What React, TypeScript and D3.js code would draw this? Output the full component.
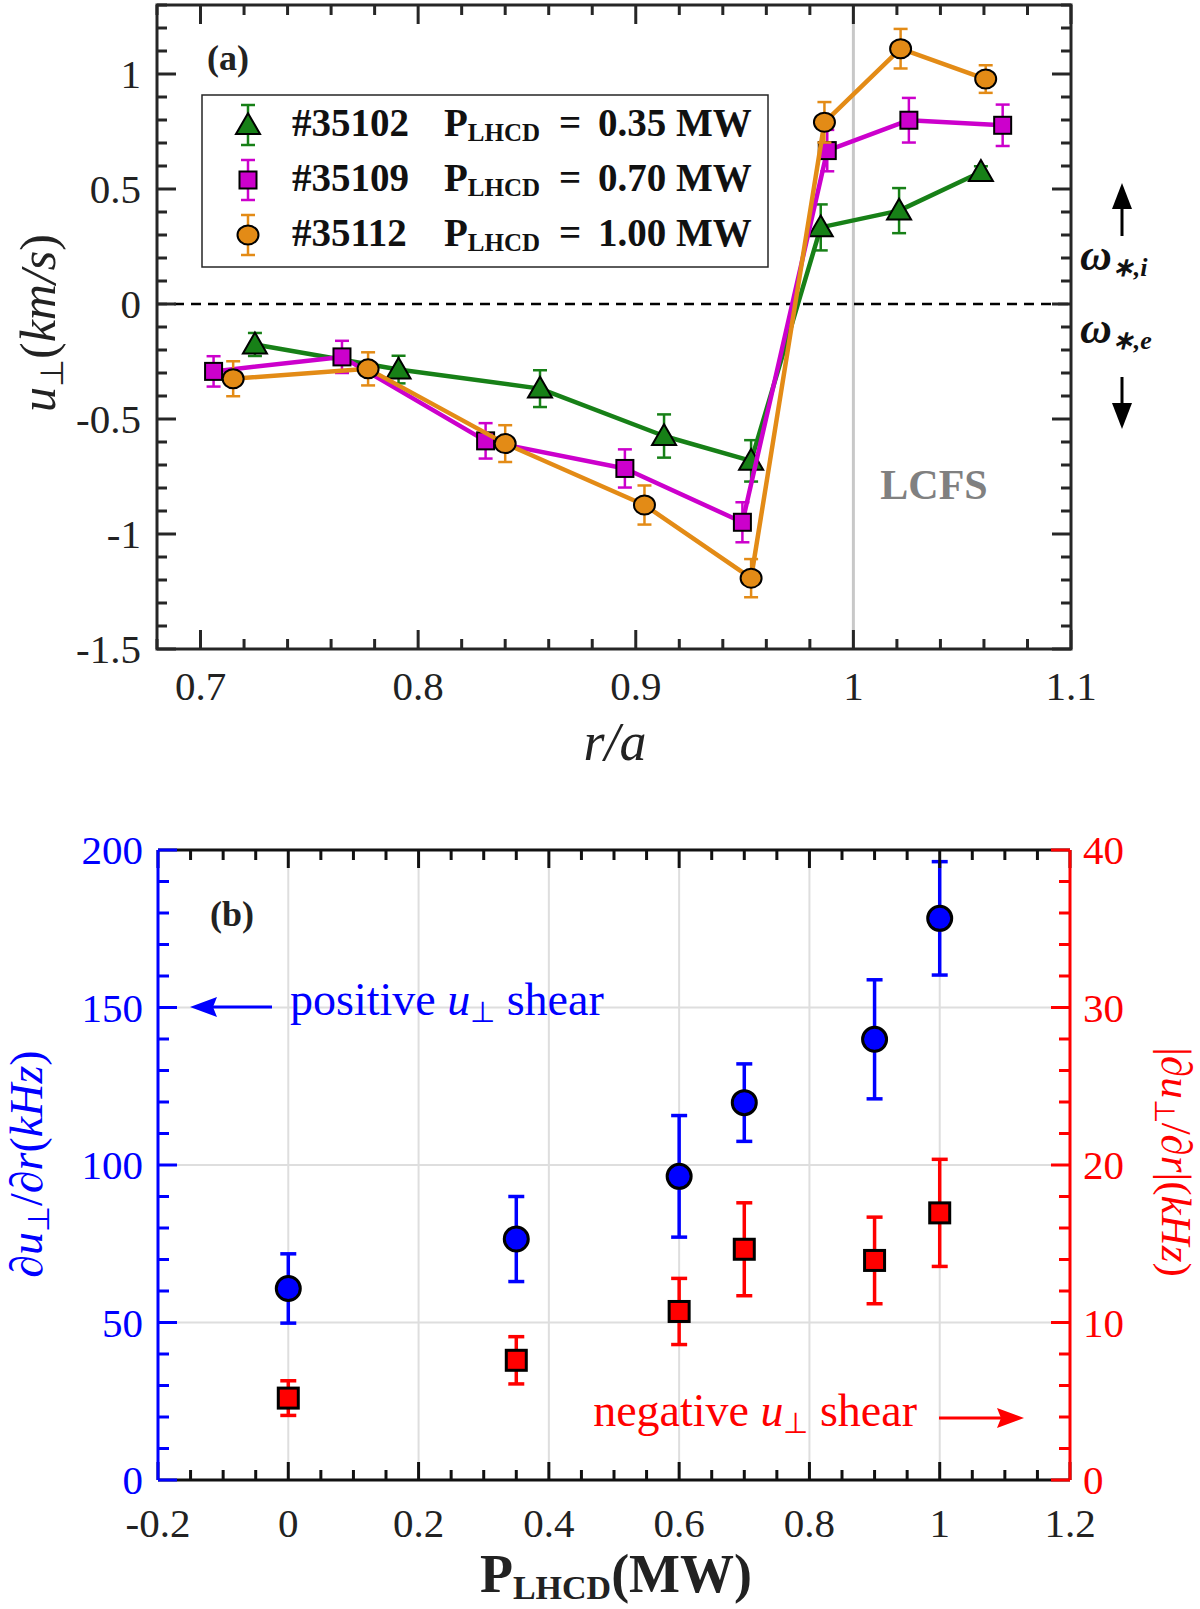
import React from "react";
import * as d3 from "d3";

// panel (a): r/a vs u_perp for three shots
const shots = ["#35102", "#35109", "#35112"];
const powers = ["0.35", "0.70", "1.00"];
const r35102 = [0.725, 0.791, 0.856, 0.913, 0.953, 0.985, 1.021, 1.0586];
const u35102 = [-0.176, -0.285, -0.368, -0.574, -0.682, 0.333, 0.406, 0.574];
const e35102 = [0.05, 0.06, 0.08, 0.094, 0.09, 0.1, 0.098, 0.025];
const r35109 = [0.706, 0.765, 0.831, 0.895, 0.949, 0.988, 1.0255, 1.0686];
const u35109 = [-0.293, -0.23, -0.595, -0.715, -0.949, 0.667, 0.799, 0.777];
const e35109 = [0.066, 0.07, 0.077, 0.083, 0.087, 0.09, 0.097, 0.09];
const r35112 = [0.715, 0.777, 0.84, 0.904, 0.953, 0.9867, 1.0217, 1.0608];
const u35112 = [-0.325, -0.282, -0.607, -0.874, -1.192, 0.79, 1.11, 0.978];
const e35112 = [0.076, 0.072, 0.08, 0.085, 0.083, 0.088, 0.086, 0.06];

// panel (b): shear vs LHCD power
const pLHCD = [0, 0.35, 0.6, 0.7, 0.9, 1.0];
const posShear = [60.8, 76.5, 96.4, 119.8, 139.9, 178.3];
const posShearErr = [11, 13.5, 19.3, 12.3, 18.9, 18];
const negShear = [5.2, 7.6, 10.7, 14.65, 13.94, 16.96];
const negShearErr = [1.1, 1.5, 2.1, 2.95, 2.75, 3.4];

const font = "'Liberation Serif', 'Times New Roman', serif";
const axisCol = "#262626";
const green = "#178017";
const magenta = "#cc00cc";
const orange = "#e38b16";
const blue = "#0000ff";
const red = "#ff0000";

const steps = (a: number, b: number, s: number) =>
  d3.range(Math.round((b - a) / s) + 1).map((i) => +(a + i * s).toFixed(6));
const isMult = (v: number, m: number) => Math.abs(v / m - Math.round(v / m)) < 1e-6;
const fmt = (v: number) => String(+v.toFixed(2));

function Marker({ kind, x, y, fill }: any) {
  if (kind === "tri") {
    const p = d3.symbol(d3.symbolTriangle, 250)();
    return <path d={p!} transform={`translate(${x},${y + 2})`} fill={fill} stroke="#000" strokeWidth={2} />;
  }
  if (kind === "sq") {
    return <rect x={x - 8.5} y={y - 8.5} width={17} height={17} fill={fill} stroke="#000" strokeWidth={2} />;
  }
  return <ellipse cx={x} cy={y} rx={10.5} ry={9.5} fill={fill} stroke="#000" strokeWidth={2} />;
}

export default function App() {
  const xA = d3.scaleLinear().domain([0.68, 1.1]).range([157, 1071]);
  const yA = d3.scaleLinear().domain([-1.5, 1.3]).range([649, 5]);
  const xB = d3.scaleLinear().domain([-0.2, 1.2]).range([158, 1070]);
  const yBL = d3.scaleLinear().domain([0, 200]).range([1480, 850]);
  const yBR = d3.scaleLinear().domain([0, 40]).range([1480, 850]);

  const series = [
    { r: r35102, u: u35102, e: e35102, col: green, kind: "tri" },
    { r: r35109, u: u35109, e: e35109, col: magenta, kind: "sq" },
    { r: r35112, u: u35112, e: e35112, col: orange, kind: "circ" },
  ];
  const line = d3
    .line<[number, number]>()
    .x((d) => xA(d[0]))
    .y((d) => yA(d[1]));

  const [aL, aR] = xA.range();
  const [aB, aT] = yA.range();
  const [bL, bR] = xB.range();
  const [bB, bT] = yBL.range();

  const xTicksA = steps(0.68, 1.1, 0.02);
  const yTicksA = steps(-1.5, 1.3, 0.1);
  const xTicksB = steps(-0.2, 1.2, 0.05);
  const yTicksBL = steps(0, 200, 10);
  const yTicksBR = steps(0, 40, 2);

  return (
    <svg width={1200} height={1609} style={{ position: "absolute", left: 0, top: 0, background: "#fff" }} fontFamily={font}>
      <rect width={1200} height={1609} fill="#fff" />

      {/* ---------- panel (a) ---------- */}
      <line x1={xA(1)} x2={xA(1)} y1={aT} y2={aB} stroke="#c8c8c8" strokeWidth={3} />
      <line x1={aL} x2={aR} y1={yA(0)} y2={yA(0)} stroke="#000" strokeWidth={2.5} strokeDasharray="10,7" />
      <text x={934} y={499} textAnchor="middle" fontSize={42} fontWeight="bold" fill="#808080">LCFS</text>

      {series.map((s, si) => {
        const pts = s.r.map((r, i) => [r, s.u[i]] as [number, number]);
        return (
          <g key={si}>
            <path d={line(pts)!} fill="none" stroke={s.col} strokeWidth={4.5} strokeLinejoin="round" />
            {pts.map((p, i) => (
              <g key={i} stroke={s.col} strokeWidth={2.5}>
                <line x1={xA(p[0])} x2={xA(p[0])} y1={yA(p[1] - s.e[i])} y2={yA(p[1] + s.e[i])} />
                <line x1={xA(p[0]) - 7} x2={xA(p[0]) + 7} y1={yA(p[1] - s.e[i])} y2={yA(p[1] - s.e[i])} />
                <line x1={xA(p[0]) - 7} x2={xA(p[0]) + 7} y1={yA(p[1] + s.e[i])} y2={yA(p[1] + s.e[i])} />
              </g>
            ))}
            {pts.map((p, i) => (
              <Marker key={"m" + i} kind={s.kind} x={xA(p[0])} y={yA(p[1])} fill={s.col} />
            ))}
          </g>
        );
      })}

      {/* axes frame (a) */}
      <rect x={aL} y={aT} width={aR - aL} height={aB - aT} fill="none" stroke={axisCol} strokeWidth={3} />
      <g stroke={axisCol} strokeWidth={3}>
        {xTicksA.map((v) => {
          const len = isMult(v, 0.1) ? 19 : 10;
          return (
            <g key={v}>
              <line x1={xA(v)} x2={xA(v)} y1={aB} y2={aB - len} />
              <line x1={xA(v)} x2={xA(v)} y1={aT} y2={aT + len} />
            </g>
          );
        })}
        {yTicksA.map((v) => {
          const len = isMult(v, 0.5) ? 19 : 10;
          return (
            <g key={v}>
              <line x1={aL} x2={aL + len} y1={yA(v)} y2={yA(v)} />
              <line x1={aR} x2={aR - len} y1={yA(v)} y2={yA(v)} />
            </g>
          );
        })}
      </g>
      {xA.ticks(5).map((v) => (
        <text key={v} x={xA(v)} y={700} textAnchor="middle" fontSize={41} fill="#222">{fmt(v)}</text>
      ))}
      {d3.range(-1.5, 1.01, 0.5).map((v) => (
        <text key={v} x={141} y={yA(v) + 14} textAnchor="end" fontSize={41} fill="#222">{fmt(v)}</text>
      ))}
      <text x={615} y={760} textAnchor="middle" fontSize={54} fontStyle="italic" fill="#222">r/a</text>
      <text transform="translate(55,323) rotate(-90)" textAnchor="middle" fontSize={50} fill="#222">
        <tspan fontStyle="italic">u</tspan>
        <tspan fontSize={32} dy={8}>⊥</tspan>
        <tspan dy={-8}>(</tspan>
        <tspan fontStyle="italic">km/s</tspan>
        <tspan>)</tspan>
      </text>
      <text x={207} y={70} fontSize={36} fontWeight="bold" fill="#222">(a)</text>

      {/* legend */}
      <rect x={202} y={95} width={566} height={172} fill="#fff" stroke={axisCol} strokeWidth={1.5} />
      {series.map((s, i) => {
        const cy = 125 + i * 55;
        return (
          <g key={i}>
            <g stroke={s.col} strokeWidth={2.5}>
              <line x1={248} x2={248} y1={cy - 20} y2={cy + 20} />
              <line x1={241} x2={255} y1={cy - 20} y2={cy - 20} />
              <line x1={241} x2={255} y1={cy + 20} y2={cy + 20} />
            </g>
            <Marker kind={s.kind} x={248} y={cy} fill={s.col} />
            <text x={292} y={cy + 11} fontSize={39} fontWeight="bold" fill="#111">{shots[i]}</text>
            <text x={444} y={cy + 11} fontSize={39} fontWeight="bold" fill="#111">
              P<tspan fontSize={25} dy={5}>LHCD</tspan>
            </text>
            <text x={559} y={cy + 11} fontSize={39} fontWeight="bold" fill="#111">=</text>
            <text x={598} y={cy + 11} fontSize={39} fontWeight="bold" fill="#111">{powers[i]} MW</text>
          </g>
        );
      })}

      {/* omega annotations */}
      <g stroke="#000" strokeWidth={3}>
        <line x1={1122} x2={1122} y1={236} y2={200} />
        <line x1={1122} x2={1122} y1={377} y2={412} />
      </g>
      <polygon points="1122,183 1112,209 1132,209" fill="#000" />
      <polygon points="1122,429 1112,403 1132,403" fill="#000" />
      <text x={1080} y={270} fontSize={44} fontWeight="bold" fontStyle="italic" fill="#111">
        ω<tspan fontSize={26} dy={6}>∗,i</tspan>
      </text>
      <text x={1080} y={343} fontSize={44} fontWeight="bold" fontStyle="italic" fill="#111">
        ω<tspan fontSize={26} dy={6}>∗,e</tspan>
      </text>

      {/* ---------- panel (b) ---------- */}
      <g stroke="#dedede" strokeWidth={2}>
        {xB.ticks(7).filter((v) => v > -0.2 && v < 1.2).map((v) => (
          <line key={v} x1={xB(v)} x2={xB(v)} y1={bT} y2={bB} />
        ))}
        {[50, 100, 150].map((v) => (
          <line key={v} x1={bL} x2={bR} y1={yBL(v)} y2={yBL(v)} />
        ))}
      </g>

      {pLHCD.map((p, i) => (
        <g key={"b" + i} stroke={blue} strokeWidth={3.5}>
          <line x1={xB(p)} x2={xB(p)} y1={yBL(posShear[i] - posShearErr[i])} y2={yBL(posShear[i] + posShearErr[i])} />
          <line x1={xB(p) - 8} x2={xB(p) + 8} y1={yBL(posShear[i] - posShearErr[i])} y2={yBL(posShear[i] - posShearErr[i])} />
          <line x1={xB(p) - 8} x2={xB(p) + 8} y1={yBL(posShear[i] + posShearErr[i])} y2={yBL(posShear[i] + posShearErr[i])} />
        </g>
      ))}
      {pLHCD.map((p, i) => (
        <circle key={"bc" + i} cx={xB(p)} cy={yBL(posShear[i])} r={12} fill={blue} stroke="#000" strokeWidth={3} />
      ))}
      {pLHCD.map((p, i) => (
        <g key={"r" + i} stroke={red} strokeWidth={3.5}>
          <line x1={xB(p)} x2={xB(p)} y1={yBR(negShear[i] - negShearErr[i])} y2={yBR(negShear[i] + negShearErr[i])} />
          <line x1={xB(p) - 8} x2={xB(p) + 8} y1={yBR(negShear[i] - negShearErr[i])} y2={yBR(negShear[i] - negShearErr[i])} />
          <line x1={xB(p) - 8} x2={xB(p) + 8} y1={yBR(negShear[i] + negShearErr[i])} y2={yBR(negShear[i] + negShearErr[i])} />
        </g>
      ))}
      {pLHCD.map((p, i) => (
        <rect key={"rs" + i} x={xB(p) - 10} y={yBR(negShear[i]) - 10} width={20} height={20} fill={red} stroke="#000" strokeWidth={3} />
      ))}

      {/* axes (b) */}
      <g stroke="#111" strokeWidth={3}>
        <line x1={bL} x2={bR} y1={bB} y2={bB} />
        <line x1={bL} x2={bR} y1={bT} y2={bT} />
        {xTicksB.map((v) => {
          const len = isMult(v, 0.2) ? 18 : 10;
          return (
            <g key={v}>
              <line x1={xB(v)} x2={xB(v)} y1={bB} y2={bB - len} />
              <line x1={xB(v)} x2={xB(v)} y1={bT} y2={bT + len} />
            </g>
          );
        })}
      </g>
      <g stroke={blue} strokeWidth={3}>
        <line x1={bL} x2={bL} y1={bT} y2={bB} />
        {yTicksBL.map((v) => (
          <line key={v} x1={bL} x2={bL + (isMult(v, 50) ? 19 : 11)} y1={yBL(v)} y2={yBL(v)} />
        ))}
      </g>
      <g stroke={red} strokeWidth={3}>
        <line x1={bR} x2={bR} y1={bT} y2={bB} />
        {yTicksBR.map((v) => (
          <line key={v} x1={bR} x2={bR - (isMult(v, 10) ? 19 : 11)} y1={yBR(v)} y2={yBR(v)} />
        ))}
      </g>
      {xB.ticks(7).map((v) => (
        <text key={v} x={xB(v)} y={1537} textAnchor="middle" fontSize={41} fill="#222">{fmt(v)}</text>
      ))}
      {yBL.ticks(4).map((v) => (
        <text key={v} x={143} y={yBL(v) + 14} textAnchor="end" fontSize={41} fill={blue}>{fmt(v)}</text>
      ))}
      {yBR.ticks(4).map((v) => (
        <text key={v} x={1083} y={yBR(v) + 14} textAnchor="start" fontSize={41} fill={red}>{fmt(v)}</text>
      ))}
      <text x={232} y={926} textAnchor="middle" fontSize={36} fontWeight="bold" fill="#222">(b)</text>

      <text x={616} y={1592} textAnchor="middle" fontSize={54} fontWeight="bold" fill="#222">
        P<tspan fontSize={34} dy={7}>LHCD</tspan><tspan dy={-7}>(MW)</tspan>
      </text>
      <text transform="translate(42,1164) rotate(-90)" textAnchor="middle" fontSize={46} fill={blue}>
        ∂<tspan fontStyle="italic">u</tspan><tspan fontSize={30} dy={7}>⊥</tspan>
        <tspan dy={-7}>/∂</tspan><tspan fontStyle="italic">r</tspan>(<tspan fontStyle="italic">kHz</tspan>)
      </text>
      <text transform="translate(1162,1162) rotate(90)" textAnchor="middle" fontSize={43} fill={red}>
        |∂<tspan fontStyle="italic">u</tspan><tspan fontSize={28} dy={7}>⊥</tspan>
        <tspan dy={-7}>/∂</tspan><tspan fontStyle="italic">r</tspan>|(<tspan fontStyle="italic">kHz</tspan>)
      </text>

      {/* annotations (b) */}
      <text x={290} y={1015} fontSize={46} fill={blue}>
        positive <tspan fontStyle="italic">u</tspan><tspan fontSize={29} dy={7}>⊥</tspan><tspan dy={-7}> shear</tspan>
      </text>
      <line x1={272} x2={205} y1={1007} y2={1007} stroke={blue} strokeWidth={3} />
      <polygon points="190,1007 217,997 213,1007 217,1017" fill={blue} />
      <text x={917} y={1426} textAnchor="end" fontSize={46} fill={red}>
        negative <tspan fontStyle="italic">u</tspan><tspan fontSize={29} dy={7}>⊥</tspan><tspan dy={-7}> shear</tspan>
      </text>
      <line x1={939} x2={1008} y1={1418} y2={1418} stroke={red} strokeWidth={3} />
      <polygon points="1024,1418 997,1408 1001,1418 997,1428" fill={red} />
    </svg>
  );
}
